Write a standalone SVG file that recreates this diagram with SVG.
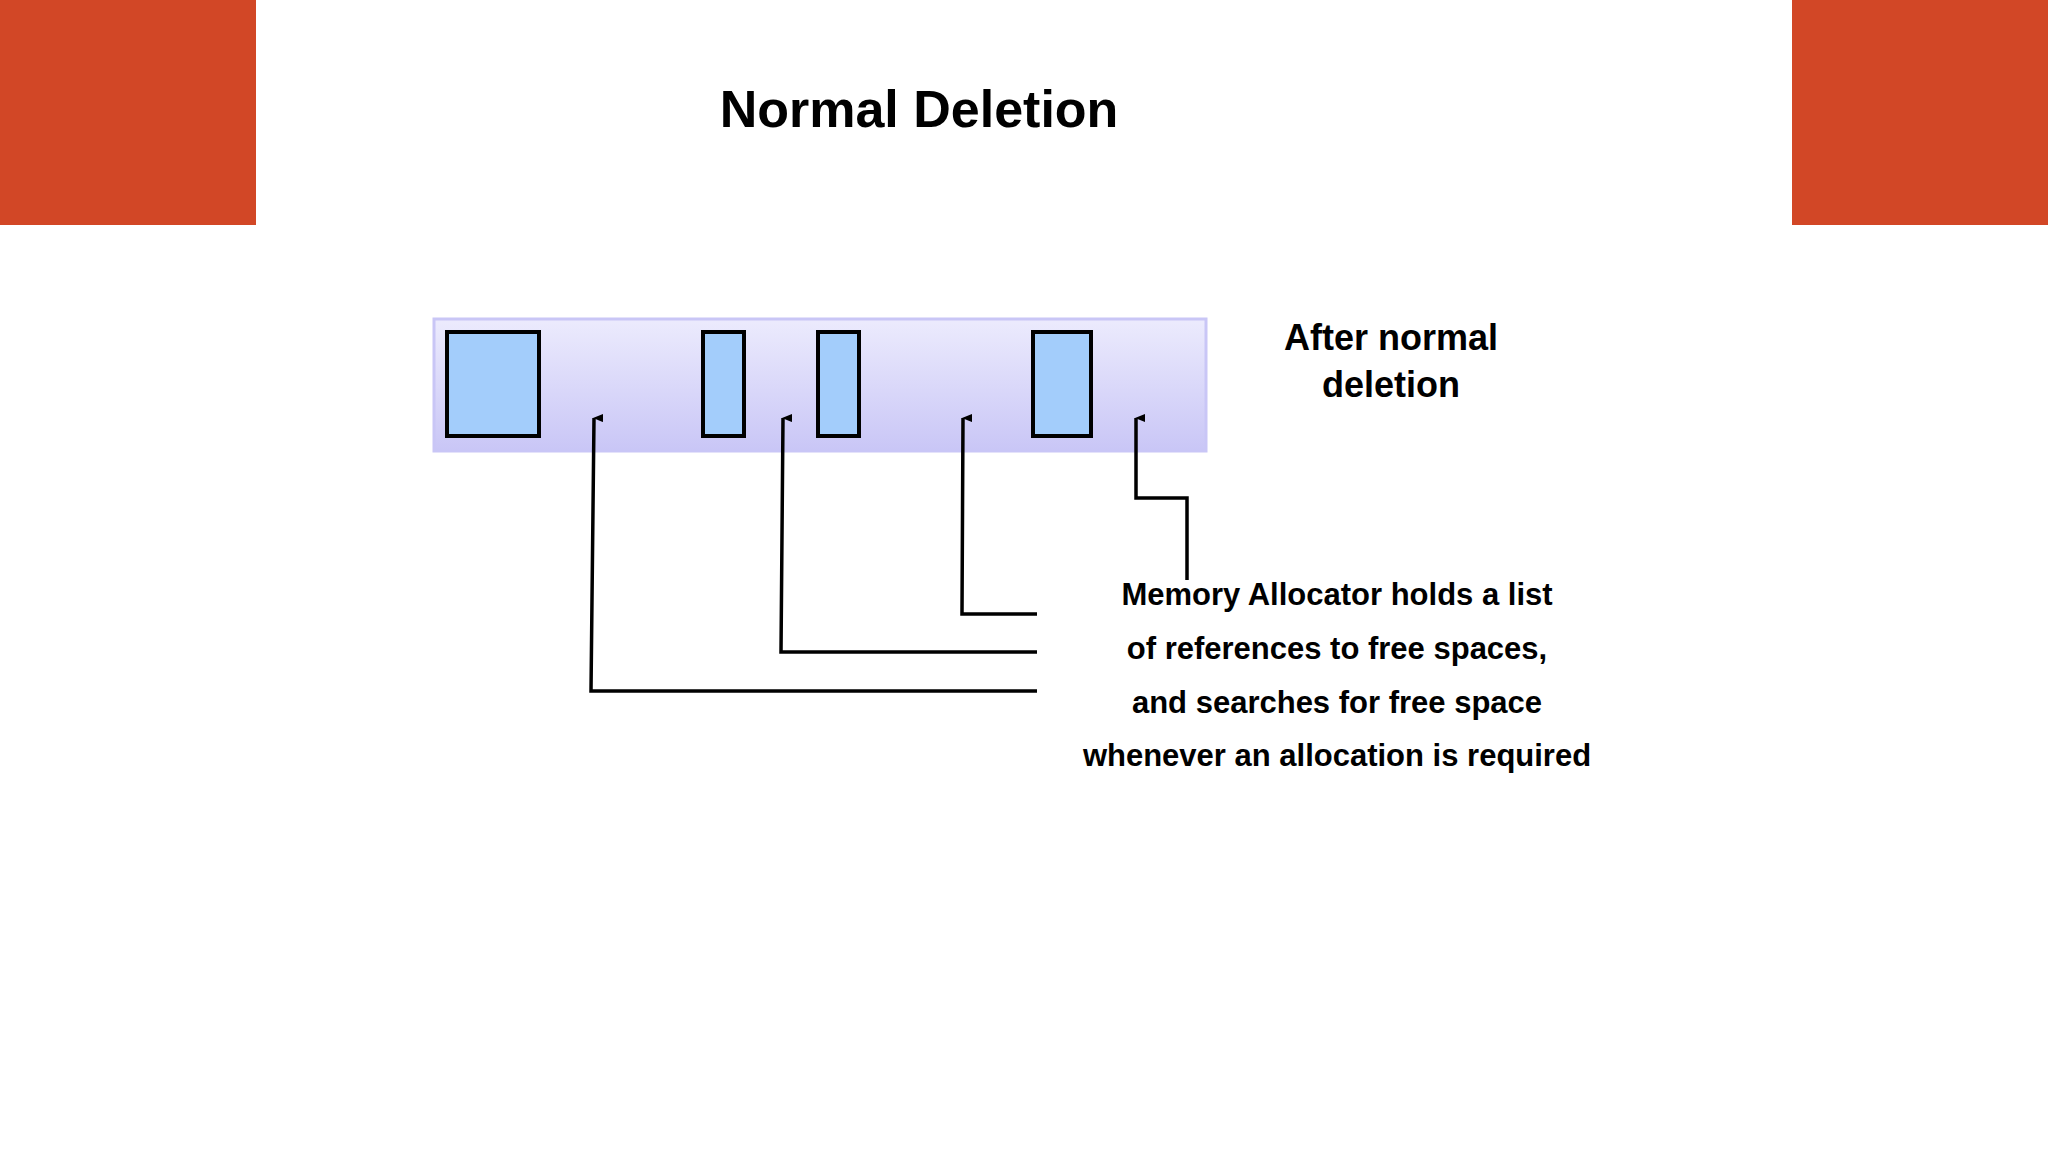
<svg xmlns="http://www.w3.org/2000/svg" width="2048" height="1152" viewBox="0 0 2048 1152">
<defs>
<linearGradient id="g" x1="0" y1="0" x2="0" y2="1"><stop offset="0" stop-color="#ecebfd"/><stop offset="1" stop-color="#c9c6f6"/></linearGradient>
<marker id="a" markerWidth="8" markerHeight="10" refX="4" refY="1" orient="auto-start-reverse" markerUnits="userSpaceOnUse" viewBox="0 0 8 10"><path d="M0,10 L4,0 L8,10 Z" fill="#000"/></marker>
</defs>
<style>
.blk{fill:#a3cdfb;stroke:#000;stroke-width:4}
.c{fill:none;stroke:#000;stroke-width:3.5}
text{font-family:"Liberation Sans",Arial,sans-serif;font-weight:bold;fill:#000;text-anchor:middle}
</style>
<rect width="2048" height="1152" fill="#fff"/>
<rect x="0" y="0" width="256" height="225" fill="#d24726"/>
<rect x="1792" y="0" width="256" height="225" fill="#d24726"/>
<text x="919" y="127" font-size="52">Normal Deletion</text>
<g id="memory">
<rect x="434" y="319" width="772" height="132" fill="url(#g)" stroke="#c9c6f6" stroke-width="3"/>
</g>
<g id="block1"><rect class="blk" x="447" y="332" width="92" height="104"/></g>
<g id="block2"><rect class="blk" x="703" y="332" width="41" height="104"/></g>
<g id="block3"><rect class="blk" x="818" y="332" width="41" height="104"/></g>
<g id="block4"><rect class="blk" x="1033" y="332" width="58" height="104"/></g>
<g id="label-after"><text x="1391" y="350" font-size="36">After normal</text><text x="1391" y="397" font-size="36">deletion</text></g>
<g id="label-allocator" font-size="31">
<text x="1337" y="605" font-size="31">Memory Allocator holds a list</text>
<text x="1337" y="659" font-size="31">of references to free spaces,</text>
<text x="1337" y="713" font-size="31">and searches for free space</text>
<text x="1337" y="766" font-size="31">whenever an allocation is required</text>
</g>
<g id="connectors">
<polyline class="c" points="1037,691 591,691 594,418" marker-end="url(#a)"/>
<polyline class="c" points="1037,652 781,652 783,418" marker-end="url(#a)"/>
<polyline class="c" points="1037,614 962,614 963,418" marker-end="url(#a)"/>
<polyline class="c" points="1187,580 1187,498 1136,498 1136,418" marker-end="url(#a)"/>
</g>
</svg>
